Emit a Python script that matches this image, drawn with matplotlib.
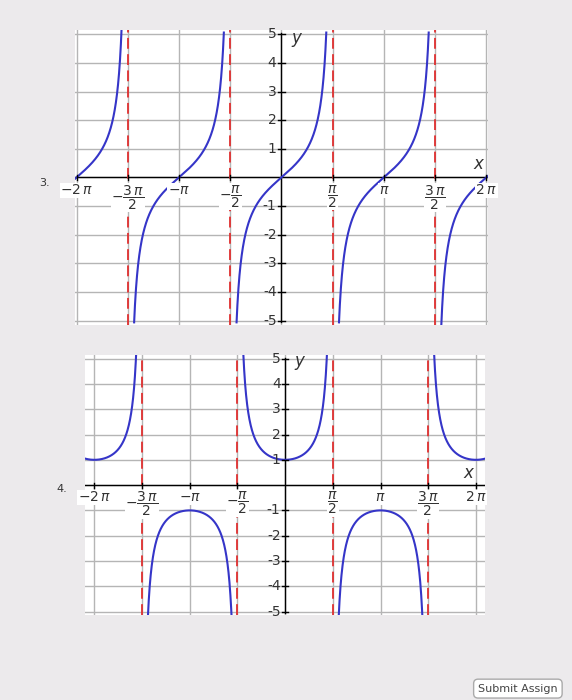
import numpy as np
import matplotlib
matplotlib.use("Agg")
import matplotlib.pyplot as plt

PI = np.pi
x_tick_pos = [-2*PI, -3*PI/2, -PI, -PI/2, PI/2, PI, 3*PI/2, 2*PI]
x_tick_lab = [r"$-2\,\pi$", r"$-\dfrac{3\,\pi}{2}$", r"$-\pi$", r"$-\dfrac{\pi}{2}$",
              r"$\dfrac{\pi}{2}$", r"$\pi$", r"$\dfrac{3\,\pi}{2}$", r"$2\,\pi$"]
y_ticks = [-5, -4, -3, -2, -1, 1, 2, 3, 4, 5]
asymptotes = [-3*PI/2, -PI/2, PI/2, 3*PI/2]
funcs = {"tan": np.tan, "sec": lambda t: 1/np.cos(t)}

fig = plt.figure(figsize=(5.72, 7.0), dpi=100)
fig.patch.set_facecolor("#eceaec")

def panel(rect, fname, xpad, num, numpos):
    ax = fig.add_axes(rect)
    ax.set_facecolor("white")
    ax.set_xlim(-2*PI - xpad, 2*PI + xpad)
    ax.set_ylim(-5.15, 5.15)
    for s in ax.spines.values():
        s.set_visible(False)
    ax.set_xticks([]); ax.set_yticks([])
    for gx in np.arange(-2*PI, 2*PI + 0.01, PI/2):
        ax.axvline(gx, color="#b5b5b5", lw=1)
    for gy in range(-5, 6):
        ax.axhline(gy, color="#b5b5b5", lw=1)
    ax.axhline(0, color="black", lw=1)
    ax.axvline(0, color="black", lw=1, ymin=0.01, ymax=0.99)
    for a in asymptotes:
        ax.axvline(a, color="#e03030", lw=1.3, ls=(0, (6, 3)))
    f = funcs[fname]
    edges = [-2*PI - xpad] + asymptotes + [2*PI + xpad]
    for lo, hi in zip(edges[:-1], edges[1:]):
        t = np.linspace(lo + 1e-3, hi - 1e-3, 600)
        y = f(t)
        y = np.where(np.abs(y) > 5.2, np.nan, y)
        ax.plot(t, y, color="#3535c8", lw=1.5)
    for p, l in zip(x_tick_pos, x_tick_lab):
        ax.plot([p, p], [-0.1, 0.1], color="black", lw=1)
        ax.text(p, -0.2, l, ha="center", va="top",
                fontsize=10, color="#333", bbox=dict(fc="white", ec="none", pad=0.3))
    for yv in y_ticks:
        ax.plot([-0.1, 0.1], [yv, yv], color="black", lw=1)
        ax.text(-0.15, yv, str(yv), ha="right", va="center", fontsize=10, color="#333")
    ax.text(0.3, 4.7, "y", fontsize=12, style="italic", color="#333")
    ax.text(2*PI - 0.4, 0.3, "x", fontsize=12, style="italic", color="#333")
    fig.text(numpos[0], numpos[1], num, fontsize=8, color="#333")
    return ax

panel([0.131, 0.536, 0.722, 0.421], "tan", 0.05, "3.", (0.068, 0.735))
panel([0.149, 0.121, 0.699, 0.372], "sec", 0.3, "4.", (0.098, 0.297))

fig.text(0.975, 0.012, "Submit Assign", fontsize=8, color="#444", ha="right",
         bbox=dict(fc="white", ec="#aaa", boxstyle="round,pad=0.4"))
fig.savefig("out.png", dpi=100, facecolor=fig.get_facecolor())
